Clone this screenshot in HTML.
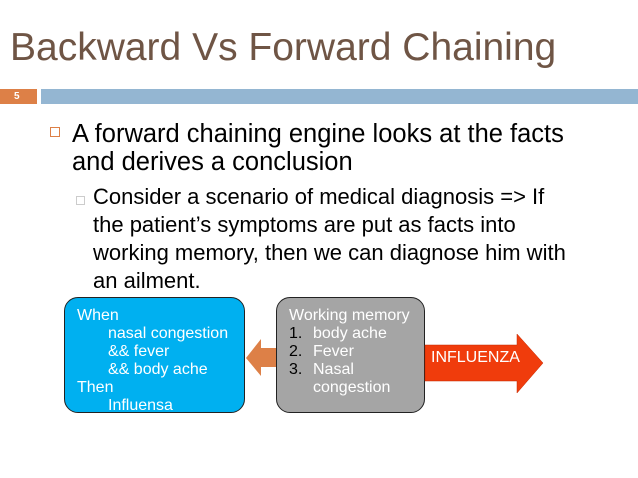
<!DOCTYPE html>
<html><head><style>
body{margin:0;width:638px;height:478px;background:#fff;position:relative;overflow:hidden;font-family:"Liberation Sans",sans-serif}
.a{position:absolute;white-space:nowrap}
</style></head><body>
<div class="a" style="left:10px;top:26px;font-size:39px;color:#6f5545">Backward Vs Forward Chaining</div>
<div class="a" style="left:0;top:89px;width:37px;height:15px;background:#dd8047;color:#fff;font-size:10px;font-weight:bold;line-height:15px;padding-left:14px;box-sizing:border-box">5</div>
<div class="a" style="left:41px;top:89px;width:597px;height:15px;background:#94b6d2"></div>
<div class="a" style="left:50px;top:127px;width:10px;height:10px;border:1.5px solid #dd8047;box-sizing:border-box"></div>
<div class="a" style="left:72px;top:120px;font-size:25.5px;line-height:28px;color:#000">A forward chaining engine looks at the facts<br>and derives a conclusion</div>
<div class="a" style="left:76px;top:196px;width:9px;height:9px;border:1px solid #ccc;box-sizing:border-box"></div>
<div class="a" style="left:93px;top:183px;font-size:22px;line-height:28px;color:#000">Consider a scenario of medical diagnosis =&gt; If<br>the patient’s symptoms are put as facts into<br>working memory, then we can diagnose him with<br>an ailment.</div>
<div class="a" style="left:64px;top:297px;width:181px;height:116px;background:#00b0f0;border:1px solid #222;border-radius:14px;box-sizing:border-box"></div>
<div class="a" style="left:77px;top:307px;font-size:16px;line-height:18px;color:#fff">When<br><span style="padding-left:31px">nasal congestion</span><br><span style="padding-left:31px">&amp;&amp; fever</span><br><span style="padding-left:31px">&amp;&amp; body ache</span><br>Then<br><span style="padding-left:31px">Influensa</span></div>
<div class="a" style="left:276px;top:297px;width:149px;height:116px;background:#a5a5a5;border:1px solid #222;border-radius:14px;box-sizing:border-box"></div>
<div class="a" style="left:289px;top:307px;font-size:16px;line-height:18px;color:#fff">Working memory<br><span style="color:#000">1.</span><span style="position:absolute;left:24px">body ache</span><br><span style="color:#000">2.</span><span style="position:absolute;left:24px">Fever</span><br><span style="color:#000">3.</span><span style="position:absolute;left:24px">Nasal</span><br><span style="padding-left:24px">congestion</span></div>
<svg class="a" style="left:0;top:0" width="638" height="478">
<polygon points="246,358 261,339 261,348 276,348 276,367 261,367 261,376" fill="#dd8047"/>
<polygon points="425,345 517,345 517,334 543,363 517,393 517,381 425,381" fill="#f03c0c" stroke="#c02800" stroke-width="0.5"/>
</svg>
<div class="a" style="left:431px;top:349px;font-size:16px;color:#fff">INFLUENZA</div>
</body></html>
